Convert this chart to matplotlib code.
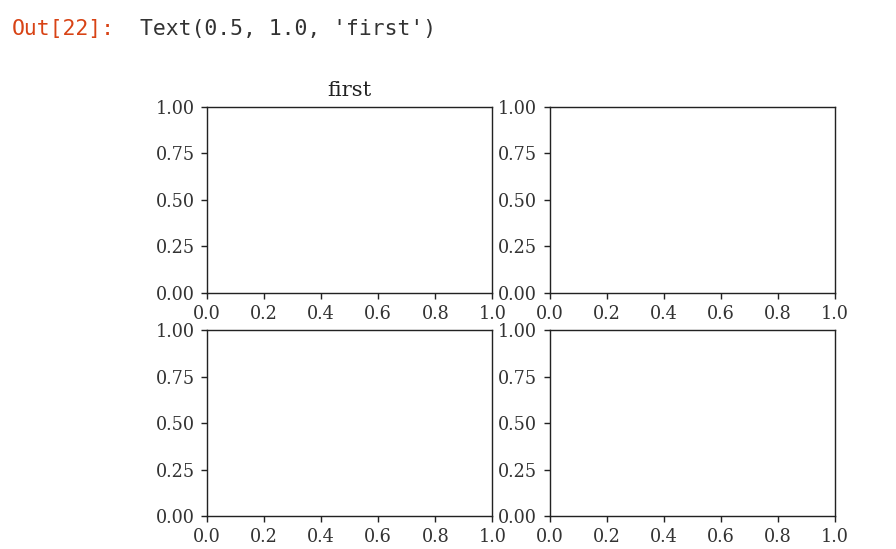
import matplotlib
matplotlib.use("Agg")
import matplotlib.pyplot as plt
import matplotlib.ticker as mticker

# data / text shown in the notebook cell
PROMPT = "Out[22]:"
REPR = "Text(0.5, 1.0, 'first')"
TITLE = "first"
XLIM = (0.0, 1.0)
YLIM = (0.0, 1.0)
XTICKS = [0.0, 0.2, 0.4, 0.6, 0.8, 1.0]
YTICKS = [0.0, 0.25, 0.5, 0.75, 1.0]

DPI = 126.5
W, H = 896, 549

plt.rcParams["font.family"] = ["DejaVu Serif"]

fig, axes = plt.subplots(2, 2, figsize=(W / DPI, H / DPI), dpi=DPI)
fig.subplots_adjust(left=207 / W, right=835 / W, top=1 - 107 / H, bottom=1 - 516 / H,
                    wspace=0.2, hspace=0.2)

for ax in axes.flat:
    ax.set_xlim(*XLIM)
    ax.set_ylim(*YLIM)
    ax.set_xticks(XTICKS)
    ax.set_yticks(YTICKS)
    ax.xaxis.set_major_formatter(mticker.FormatStrFormatter("%.1f"))
    ax.yaxis.set_major_formatter(mticker.FormatStrFormatter("%.2f"))
    ax.tick_params(colors="#222222", labelcolor="#333333")
    for sp in ax.spines.values():
        sp.set_color("#222222")

axes[0, 0].set_title(TITLE, color="#222222")

# notebook output prompt above the figure
fig.text(12 / W, 1 - 29 / H, PROMPT, color="#d84315", fontsize=12.2,
         family="DejaVu Sans Mono", va="center", ha="left")
fig.text(140 / W, 1 - 29 / H, REPR, color="#333333", fontsize=12.2,
         family="DejaVu Sans Mono", va="center", ha="left")

fig.savefig("out.png", dpi=DPI)
